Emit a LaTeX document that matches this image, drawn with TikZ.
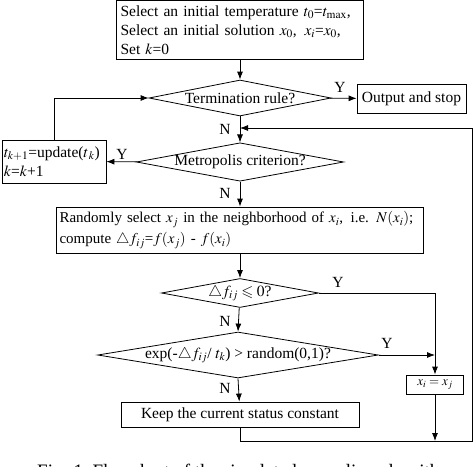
\documentclass[tikz,border=0pt]{standalone}
\usepackage{amssymb}
\usepackage{mathptmx}
\usepackage{fontspec}
\setmainfont{Liberation Serif}
\usetikzlibrary{shapes.geometric}
\usetikzlibrary{arrows.meta}

\begin{document}
\begin{tikzpicture}[x=1pt, y=-1pt, font=\fontsize{15.5}{19}\selectfont]
				\tikzstyle{procnode}=[draw=black, line width=0.8, fill=none, text=black, inner sep=4]
				\tikzstyle{decnode}=[diamond, draw=black, line width=0.8, fill=none, text=black, inner sep=0]
				\tikzstyle{flow}=[-{Latex[length=8, width=6]}, line width=0.8, black]
				\tikzstyle{yn}=[inner sep=0, text=black]
				
				\useasboundingbox (0,0) rectangle (474,466);
				
				\node (init) at (240,30) [procnode, text width=239, minimum height=59, align=left] {Select an initial temperature $t_0$=$t_{\max}$,\\Select an initial solution $x_0$,\, $x_i$=$x_0$,\\Set $k$=0};
				\node (term) at (240,98) [decnode, aspect=5, minimum width=182, minimum height=36] {Termination rule?};
				\node (out) at (411.5,98.5) [procnode, minimum width=109, minimum height=29] {Output and stop};
				
				\node (metro) at (240,162) [decnode, aspect=5.4, minimum width=206, minimum height=38] {Metropolis criterion?};
				\node (upd) at (54,161.5) [procnode, inner xsep=2, text width=100, minimum height=43, align=left] {$t_{k+1}$=update($t_{\,k}$)\\$k$=$k$+1};
				
				\node (rand) at (240,230) [procnode, inner xsep=3, text width=361, minimum height=46, align=left, font=\fontsize{15}{21}\selectfont] {Randomly select $x_j$ in the neighborhood of $x_i$,\, i.e. $N(x_i)$;\\compute $\triangle f_{ij}$=$f(x_j)$ - $f(x_i)$};
				
				\node (dfij) at (240,293) [decnode, aspect=5.4, minimum width=157, minimum height=29] {$\triangle f_{ij}\leqslant 0$?};
				\node (expr) at (238,355) [decnode, aspect=6.1, minimum width=270, minimum height=44] {exp(-$\triangle f_{ij}$/ $t_k$) > random(0,1)?};
				\node (xij) at (435,384.5) [procnode, inner sep=1, minimum width=57, minimum height=19, font=\fontsize{13}{15}\selectfont] {$x_i=x_j$};
				\node (keep) at (240,414.5) [procnode, minimum width=238, minimum height=25] {Keep the current status constant};
				
				\node (cap) at (37,477) [anchor=base west, inner sep=0, font=\fontsize{19}{23}\selectfont] {Fig. 1\ \ Flowchart of the simulated annealing algorithm};
				
				\node (ty) at (340,87) [yn] {Y};
				\node (tn) at (225,129) [yn] {N};
				\node (my) at (122,154) [yn] {Y};
				\node (mn) at (225,193) [yn] {N};
				\node (dy) at (338,282) [yn] {Y};
				\node (dn) at (225,321) [yn] {N};
				\node (ey) at (387,343) [yn] {Y};
				\node (en) at (225,388) [yn] {N};
				
				\coordinate (m1) at (435,355);
				\coordinate (m2) at (435,441);
				\coordinate (rb) at (472,441);
				\coordinate (rt) at (472,128);
				\coordinate (j1) at (240,128);
				
				\draw [flow] (init) -- (term);
				\draw [flow] (term) -- (out);
				\draw [flow] (term) -- (metro);
				\draw [flow] (metro) -- (upd);
				\draw [flow] (upd.north) |- (term);
				\draw [flow] (metro) -- (rand);
				\draw [flow] (rand) -- (dfij);
				\draw [flow] (dfij) -| (xij);
				\draw [flow] (dfij) -- (expr.north);
				\draw [flow] (expr) -- (m1);
				\draw [flow] (expr.south) -- (keep);
				\draw [flow] (xij) -- (m2);
				\draw [flow] (keep) |- (rb) -- (rt) -- (j1);
				\end{tikzpicture}
\end{document}
